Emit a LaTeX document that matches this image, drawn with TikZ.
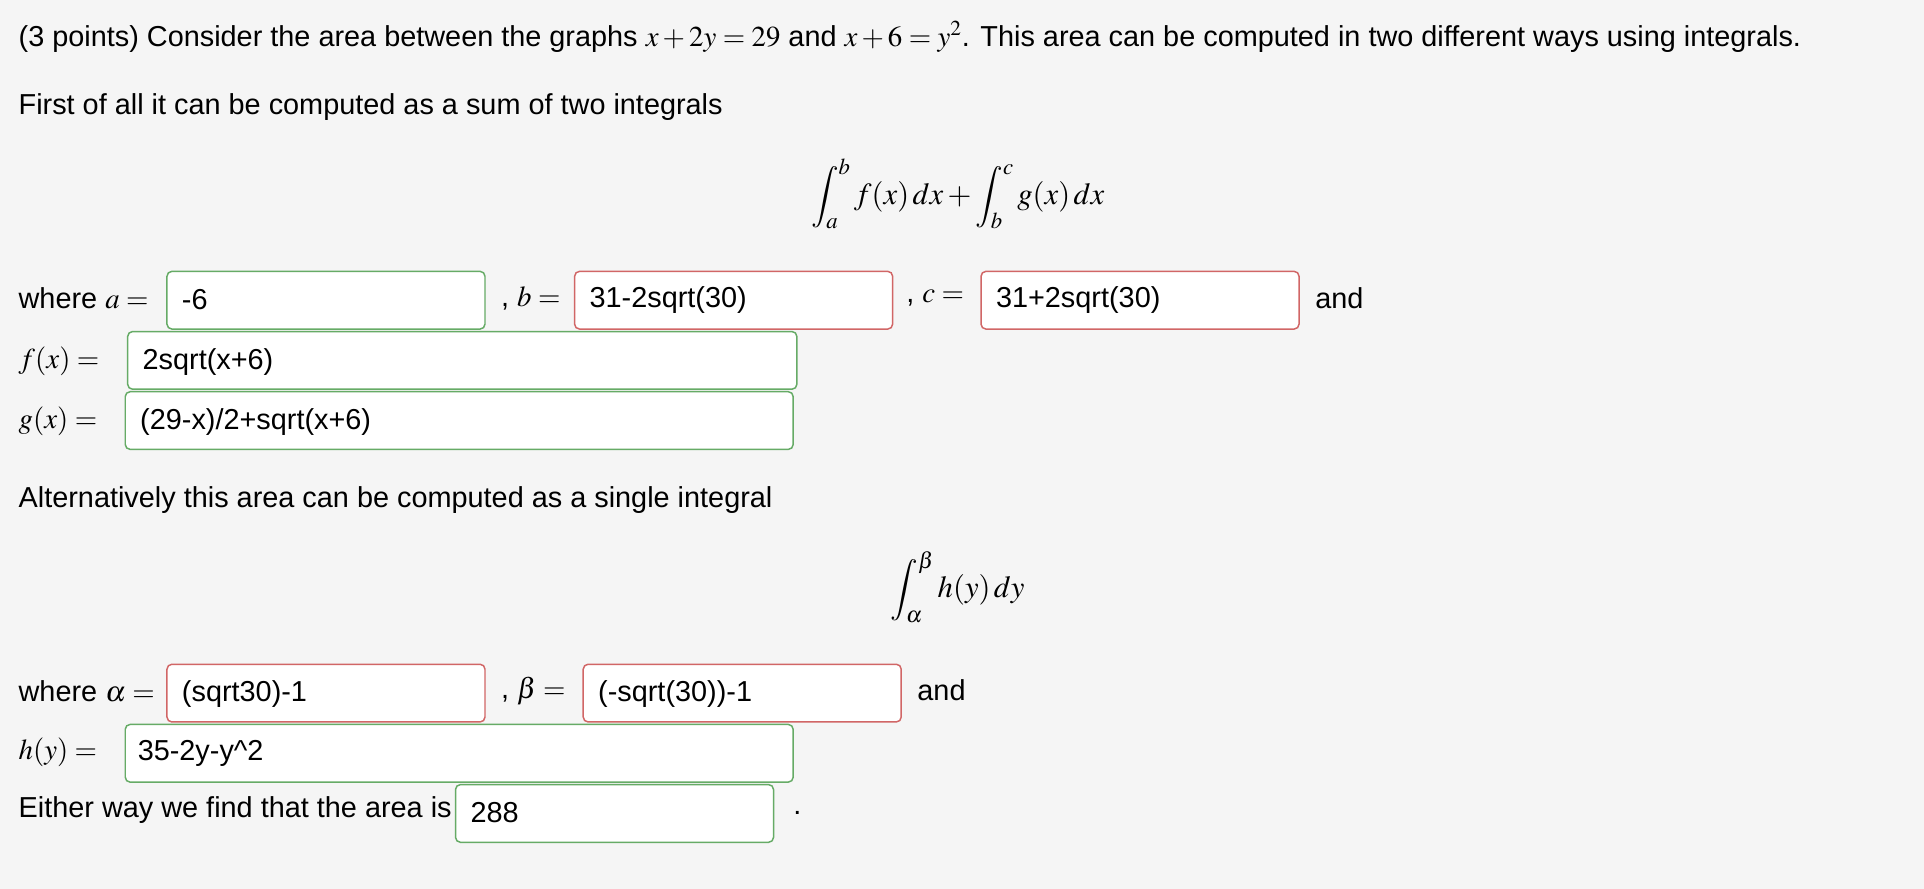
\documentclass[tikz,border=0pt]{standalone}
\usepackage{amsmath}
\usepackage{mathptmx}
\usepackage{fontspec}
\setmainfont{Liberation Sans}
\begin{document}
\begin{tikzpicture}[x=1pt,y=-1pt,
  txt/.style={anchor=west,inner sep=0pt,font=\fontsize{23.5}{27}\selectfont},
  mth/.style={anchor=center,inner sep=0pt,font=\fontsize{25}{30}\selectfont},
  ansg/.style={draw=green!45!black!60,line width=1.2pt,rounded corners=4pt,fill=white},
  ansr/.style={draw=red!70!black!60,line width=1.2pt,rounded corners=4pt,fill=white}]
\fill[gray!8] (0,0) rectangle (1567,724);
\useasboundingbox (0,0) rectangle (1567,724);
\node[txt] (t1) at (15,30) {(3 points) Consider the area between the graphs $x+2y=29$ and $x+6=y^2$. This area can be computed in two different ways using integrals.};
\node[txt] (t2) at (15,87) {First of all it can be computed as a sum of two integrals};
\node[mth] (i1) at (780,158) {$\displaystyle\int_a^b f(x)\,dx+\int_b^c g(x)\,dx$};
\node[txt] (wa) at (15,243) {where $a=$};
\draw[ansg] (136,221) rectangle (395,268); \node[txt] (va) at (148,244) {-6};
\node[txt] (lb) at (408,243) {, $b=$};
\draw[ansr] (468,221) rectangle (727,268); \node[txt] (vb) at (480,244) {31-2sqrt(30)};
\node[txt] (lc) at (738,243) {, $c=$};
\draw[ansr] (799,221) rectangle (1058,268); \node[txt] (vc) at (811,244) {31+2sqrt(30)};
\node[txt] (and1) at (1071,243) {and};
\node[txt] (lf) at (15,294) {$f(x)=$};
\draw[ansg] (104,270) rectangle (649,317); \node[txt] (vf) at (116,295) {2sqrt(x+6)};
\node[txt] (lg) at (15,343) {$g(x)=$};
\draw[ansg] (102,319) rectangle (646,366); \node[txt] (vg) at (114,344) {(29-x)/2+sqrt(x+6)};
\node[txt] (t3) at (15,407) {Alternatively this area can be computed as a single integral};
\node[mth] (i2) at (780,478) {$\displaystyle\int_\alpha^\beta h(y)\,dy$};
\node[txt] (wal) at (15,563) {where $\alpha=$};
\draw[ansr] (136,541) rectangle (395,588); \node[txt] (val) at (148,565) {(sqrt30)-1};
\node[txt] (lbe) at (408,563) {, $\beta=$};
\draw[ansr] (475,541) rectangle (734,588); \node[txt] (vbe) at (487,565) {(-sqrt(30))-1};
\node[txt] (and2) at (747,562) {and};
\node[txt] (lh) at (15,613) {$h(y)=$};
\draw[ansg] (102,590) rectangle (646,637); \node[txt] (vh) at (112,614) {35-2y-y\^{}2};
\node[txt] (t4) at (15,660) {Either way we find that the area is};
\draw[ansg] (371,639) rectangle (630,686); \node[txt] (vA) at (383,662) {288};
\node[txt] (dot) at (646,662) {.};
\end{tikzpicture}
\end{document}
